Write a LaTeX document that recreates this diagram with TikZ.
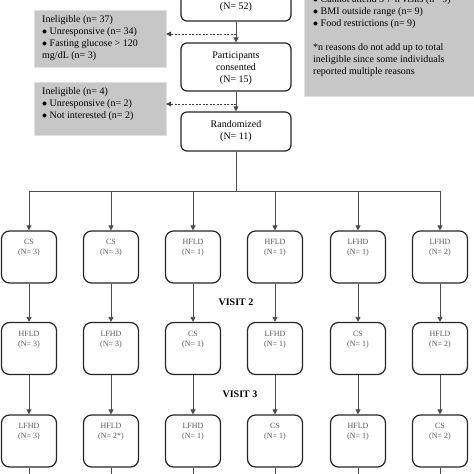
\documentclass[tikz,border=0pt]{standalone}
\usepackage{fontspec}
\setmainfont{Liberation Serif}
\usetikzlibrary{arrows.meta,calc}
\begin{document}
\begin{tikzpicture}[x=1pt,y=-1pt,
  mainbox/.style={draw=black!85,line width=1.2pt,rounded corners=6pt,fill=white,minimum width=110pt,inner sep=0pt},
  rowbox/.style={draw=black!85,line width=1.2pt,rounded corners=8pt,fill=white,minimum width=55pt,minimum height=52pt,inner sep=0pt},
  greybox/.style={fill=black!22,draw=black!12,line width=0.4pt,inner sep=0pt},
  maintext/.style={font=\fontsize{10}{12}\selectfont,align=center,inner sep=0pt},
  boxtext/.style={font=\fontsize{10}{12}\selectfont,align=left,inner sep=0pt,anchor=west},
  linetext/.style={font=\fontsize{10}{12}\selectfont,inner sep=0pt,anchor=base west},
  rowtext/.style={font=\fontsize{8}{10}\selectfont,align=center,inner sep=0pt,text=black!65},
  visit/.style={font=\fontsize{10}{12}\selectfont\bfseries,inner sep=0pt},
  conn/.style={draw=black!70,line width=0.8pt},
  arr/.style={conn,-{Triangle[length=5pt,width=5pt]},shorten >=0pt},
  darr/.style={draw=black!75,line width=0.8pt,dash pattern=on 2pt off 1.5pt,-{Triangle[length=5pt,width=5pt]}}
]
\useasboundingbox (0,0) rectangle (474,474);
\clip (0,0) rectangle (474,474);
\fill[white] (0,0) rectangle (474,474);

% right grey note box
\node[greybox,minimum width=176pt,minimum height=126pt] (note) at (392,33) {};
\node[linetext] (n0) at (313,2.3) {$\bullet$ Cannot attend 3 7-h visits (n= 9)};
\node[linetext] (n1) at (313,14.3) {$\bullet$ BMI outside range (n= 9)};
\node[linetext] (n2) at (313,26.3) {$\bullet$ Food restrictions (n= 9)};
\node[linetext] (n3) at (313,50.3) {*n reasons do not add up to total};
\node[linetext] (n4) at (313,62.3) {ineligible since some individuals};
\node[linetext] (n5) at (313,74.3) {reported multiple reasons};

% main column
\node[mainbox,minimum height=60pt] (screen) at (236,-9) {};
\node[maintext] (screent) at (236,1) {Participants\\(N= 52)};
\node[mainbox,minimum height=48pt] (consent) at (236,67) {};
\node[maintext] (consentt) at (236,68.5) {Participants\\consented\\(N= 15)};
\node[mainbox,minimum height=39pt] (rand) at (236,131.5) {};
\node[maintext] (randt) at (236,131) {Randomized\\(N= 11)};

% left grey boxes
\node[greybox,minimum width=132pt,minimum height=57pt] (inel1) at (100,38.5) {};
\node[boxtext] (inel1t) at (42,38.5) {Ineligible (n= 37)\\$\bullet$ Unresponsive (n= 34)\\$\bullet$ Fasting glucose > 120\\mg/dL (n= 3)};
\node[greybox,minimum width=132pt,minimum height=53pt] (inel2) at (100,108.5) {};
\node[boxtext] (inel2t) at (42,104.5) {Ineligible (n= 4)\\$\bullet$ Unresponsive (n= 2)\\$\bullet$ Not interested (n= 2)};

\coordinate (d1) at (236,34);
\coordinate (d2) at (236,104);
\draw[arr] (screen.south) -- (consent.north);
\draw[arr] (consent.south) -- (rand.north);
\draw[darr] (d1) -- (inel1.east |- d1);
\draw[darr] (d2) -- (inel2.east |- d2);

% branching
\coordinate (hub) at (236,191);
\coordinate (hl) at (29,191);
\coordinate (hr) at (440,191);
\draw[conn] (rand.south) -- (hub);
\draw[conn] (hl) -- (hr);

\foreach \i/\x in {1/29,2/111,3/193,4/275,5/358,6/440}{
  \node[rowbox] (a\i) at (\x,257) {};
  \node[rowbox] (b\i) at (\x,348.5) {};
  \node[rowbox] (c\i) at (\x,441) {};
  \coordinate (t\i) at (\x,191);
  \coordinate (e\i) at (\x,480);
  \draw[arr] (t\i) -- (a\i.north);
  \draw[arr] (a\i.south) -- (b\i.north);
  \draw[arr] (b\i.south) -- (c\i.north);
  \draw[conn] (c\i.south) -- (e\i);
}

\node[rowtext] (ta1) at (29,248) {CS\\(N= 3)};
\node[rowtext] (ta2) at (111,248) {CS\\(N= 3)};
\node[rowtext] (ta3) at (193,248) {HFLD\\(N= 1)};
\node[rowtext] (ta4) at (275,248) {HFLD\\(N= 1)};
\node[rowtext] (ta5) at (358,248) {LFHD\\(N= 1)};
\node[rowtext] (ta6) at (440,248) {LFHD\\(N= 2)};

\node[rowtext] (tb1) at (29,340) {HFLD\\(N= 3)};
\node[rowtext] (tb2) at (111,340) {LFHD\\(N= 3)};
\node[rowtext] (tb3) at (193,340) {CS\\(N= 1)};
\node[rowtext] (tb4) at (275,340) {LFHD\\(N= 1)};
\node[rowtext] (tb5) at (358,340) {CS\\(N= 1)};
\node[rowtext] (tb6) at (440,340) {HFLD\\(N= 2)};

\node[rowtext] (tc1) at (29,432) {LFHD\\(N= 3)};
\node[rowtext] (tc2) at (111,432) {HFLD\\(N= 2*)};
\node[rowtext] (tc3) at (193,432) {LFHD\\(N= 1)};
\node[rowtext] (tc4) at (275,432) {CS\\(N= 1)};
\node[rowtext] (tc5) at (358,432) {HFLD\\(N= 1)};
\node[rowtext] (tc6) at (440,432) {CS\\(N= 2)};

\node[visit] (v2) at (236,302) {VISIT 2};
\node[visit] (v3) at (240,394) {VISIT 3};
\end{tikzpicture}
\end{document}
